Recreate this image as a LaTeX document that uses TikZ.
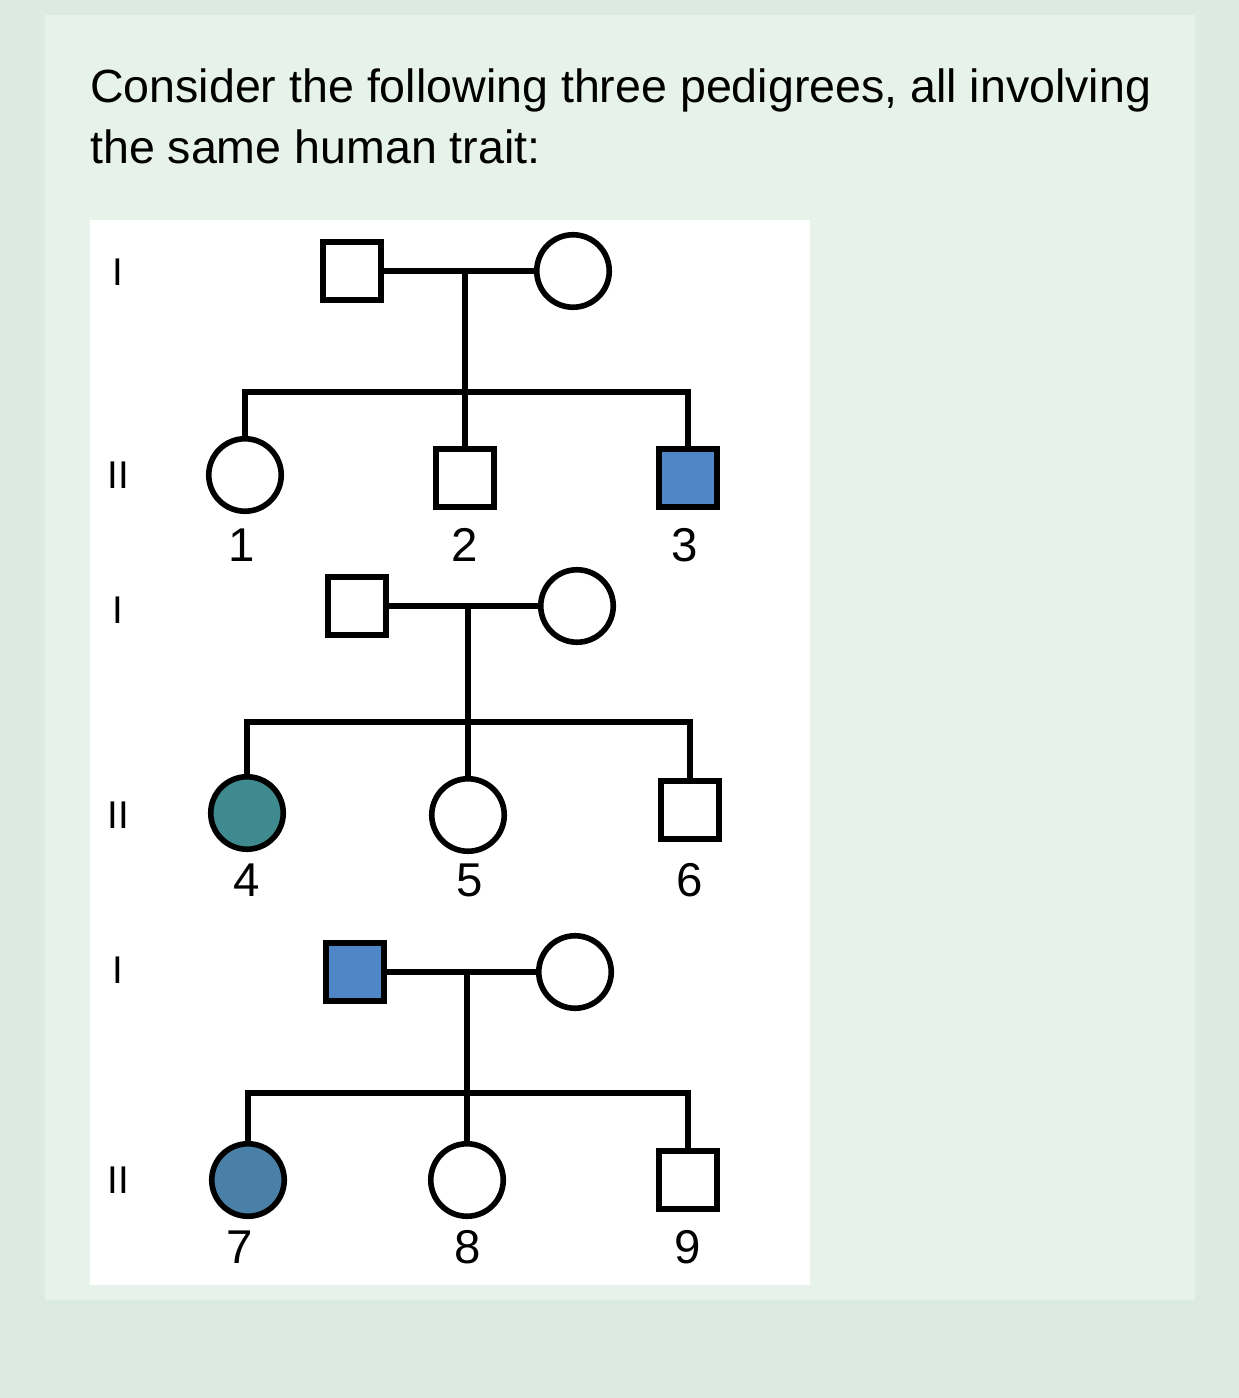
\documentclass[tikz,border=0pt]{standalone}
\usepackage{fontspec}
\setmainfont{Liberation Sans}
\definecolor{aff}{HTML}{4F86C6}
\definecolor{affb}{HTML}{3E8A8F}
\definecolor{aff7}{HTML}{4A7FA8}
\definecolor{bg}{HTML}{DCEBE2}
\definecolor{panel}{HTML}{E6F2EA}
\begin{document}
\begin{tikzpicture}[x=0.02cm,y=-0.02cm,
  ln/.style={line width=3.2pt},
  sq/.style={draw,ln,fill=white,minimum size=1.15cm,inner sep=0pt},
  ci/.style={draw,ln,fill=white,circle,minimum size=1.45cm,inner sep=0pt},
  num/.style={font=\fontsize{27}{30}\selectfont},
  gen/.style={font=\fontsize{22}{26}\selectfont}]
\useasboundingbox (0,0) rectangle (1239,1398);
\fill[bg] (0,0) rectangle (1239,1398);
\fill[panel] (45,15) rectangle (1195,1300);
\fill[white] (90,220) rectangle (810,1285);
\node[anchor=west,font=\fontsize{26.5}{32}\selectfont] (t1) at (84,90) {Consider the following three pedigrees, all involving};
\node[anchor=west,font=\fontsize{26.5}{32}\selectfont] (t2) at (84,147) {the same human trait:};
% pedigree 1
\node[gen] (g1) at (118,272) {I};
\node[gen] (g2) at (118,475) {II};
\node[sq] (f1) at (352,271) {};
\node[ci] (m1) at (573,271) {};
\draw[ln] (f1) -- (m1);
\coordinate (j1) at (465,271); \coordinate (s1) at (465,392);
\draw[ln] (j1) -- (s1);
\node[ci] (c1) at (245,475) {};
\node[sq] (c2) at (465,478) {};
\node[sq,fill=aff] (c3) at (688,478) {};
\draw[ln] (c1.north) |- (s1) -| (c3.north); \draw[ln] (s1) -- (c2.north);
\node[num] (n1) at (242,545) {1};
\node[num] (n2) at (465,545) {2};
\node[num] (n3) at (685,545) {3};
% pedigree 2
\node[gen] (g3) at (118,610) {I};
\node[gen] (g4) at (118,815) {II};
\node[sq] (f2) at (357,606) {};
\node[ci] (m2) at (577,606) {};
\draw[ln] (f2) -- (m2);
\coordinate (j2) at (468,606); \coordinate (s2) at (468,722);
\draw[ln] (j2) -- (s2);
\node[ci,fill=affb] (c4) at (247,813) {};
\node[ci] (c5) at (468,815) {};
\node[sq] (c6) at (690,810) {};
\draw[ln] (c4.north) |- (s2) -| (c6.north); \draw[ln] (s2) -- (c5.north);
\node[num] (n4) at (247,880) {4};
\node[num] (n5) at (470,880) {5};
\node[num] (n6) at (690,880) {6};
% pedigree 3
\node[gen] (g5) at (118,970) {I};
\node[gen] (g6) at (118,1180) {II};
\node[sq,fill=aff] (f3) at (355,972) {};
\node[ci] (m3) at (575,972) {};
\draw[ln] (f3) -- (m3);
\coordinate (j3) at (467,972); \coordinate (s3) at (467,1093);
\draw[ln] (j3) -- (s3);
\node[ci,fill=aff7] (c7) at (248,1180) {};
\node[ci] (c8) at (467,1180) {};
\node[sq] (c9) at (688,1180) {};
\draw[ln] (c7.north) |- (s3) -| (c9.north); \draw[ln] (s3) -- (c8.north);
\node[num] (n7) at (240,1247) {7};
\node[num] (n8) at (468,1247) {8};
\node[num] (n9) at (688,1247) {9};
\end{tikzpicture}
\end{document}
